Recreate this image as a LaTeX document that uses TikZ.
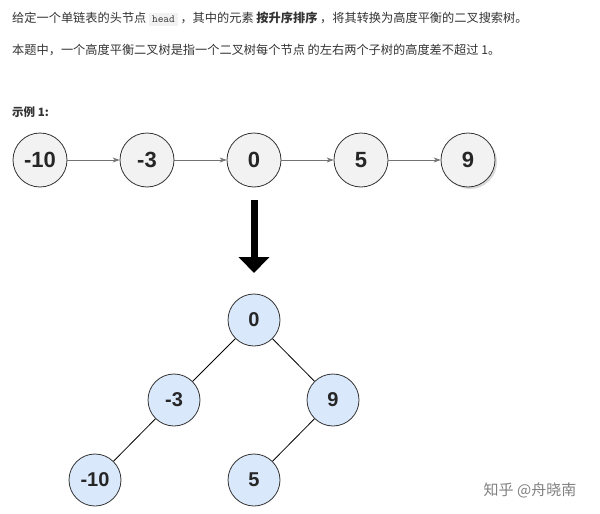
\documentclass[tikz,border=0pt]{standalone}
\usepackage{fontspec}
\setmainfont{Liberation Sans}
\newfontfamily\cjk{Noto Sans CJK SC}
\usetikzlibrary{arrows.meta,shadows}
\definecolor{lgray}{HTML}{F2F2F2}
\definecolor{lblue}{HTML}{DAE8FC}
\definecolor{tgray}{HTML}{333333}
\begin{document}
\begin{tikzpicture}[x=1pt,y=-1pt,
  lnode/.style={circle,draw=black!80,line width=0.8pt,fill=lgray,minimum size=54pt,inner sep=0pt,font=\fontsize{22}{22}\selectfont\bfseries,text=black!85},
  tnode/.style={circle,draw=black!80,line width=0.8pt,fill=lblue,minimum size=52pt,inner sep=0pt,font=\fontsize{20}{20}\selectfont\bfseries,text=black!85},
  larr/.style={-{Stealth[length=7pt,width=5pt]},draw=black!55,line width=0.6pt},
  txt/.style={anchor=west,inner sep=0pt,font=\cjk\fontsize{12.2}{13}\selectfont,text=tgray}]
\useasboundingbox (0,0) rectangle (600,514);
\node[txt] (t1) at (12,19) {给定一个单链表的头节点 \colorbox{black!5}{\ttfamily\fontsize{11}{11}\selectfont head} ，其中的元素 \textbf{按升序排序} ，将其转换为高度平衡的二叉搜索树。};
\node[txt] (t2) at (12,50) {本题中，一个高度平衡二叉树是指一个二叉树\textit{每个节点} 的左右两个子树的高度差不超过 1。};
\node[txt,font=\cjk\fontsize{11.5}{12}\selectfont\bfseries] (t3) at (12,112) {示例 1:};
\node[lnode] (a) at (40,160) {-10};
\node[lnode] (b) at (147,160) {-3};
\node[lnode] (c) at (254,160) {0};
\node[lnode] (d) at (361,160) {5};
\node[lnode,drop shadow={shadow xshift=2pt,shadow yshift=-2pt,opacity=0.3}] (e) at (468,160) {9};
\draw[larr] (a) -- (b);
\draw[larr] (b) -- (c);
\draw[larr] (c) -- (d);
\draw[larr] (d) -- (e);
\coordinate (p1) at (254,200);
\coordinate (p2) at (254,273);
\draw[line width=7pt,-{Triangle[length=16pt,width=30pt]}] (p1) -- (p2);
\node[tnode] (r) at (254,320) {0};
\node[tnode] (l) at (174,400) {-3};
\node[tnode] (rr) at (333,400) {9};
\node[tnode] (ll) at (95,480) {-10};
\node[tnode] (lr) at (254,480) {5};
\draw[line width=0.8pt] (r) -- (l);
\draw[line width=0.8pt] (r) -- (rr);
\draw[line width=0.8pt] (l) -- (ll);
\draw[line width=0.8pt] (rr) -- (lr);
\node[font=\cjk\fontsize{15}{15}\selectfont,text=black!50] (w) at (530,490) {知乎 @舟晓南};
\end{tikzpicture}
\end{document}
